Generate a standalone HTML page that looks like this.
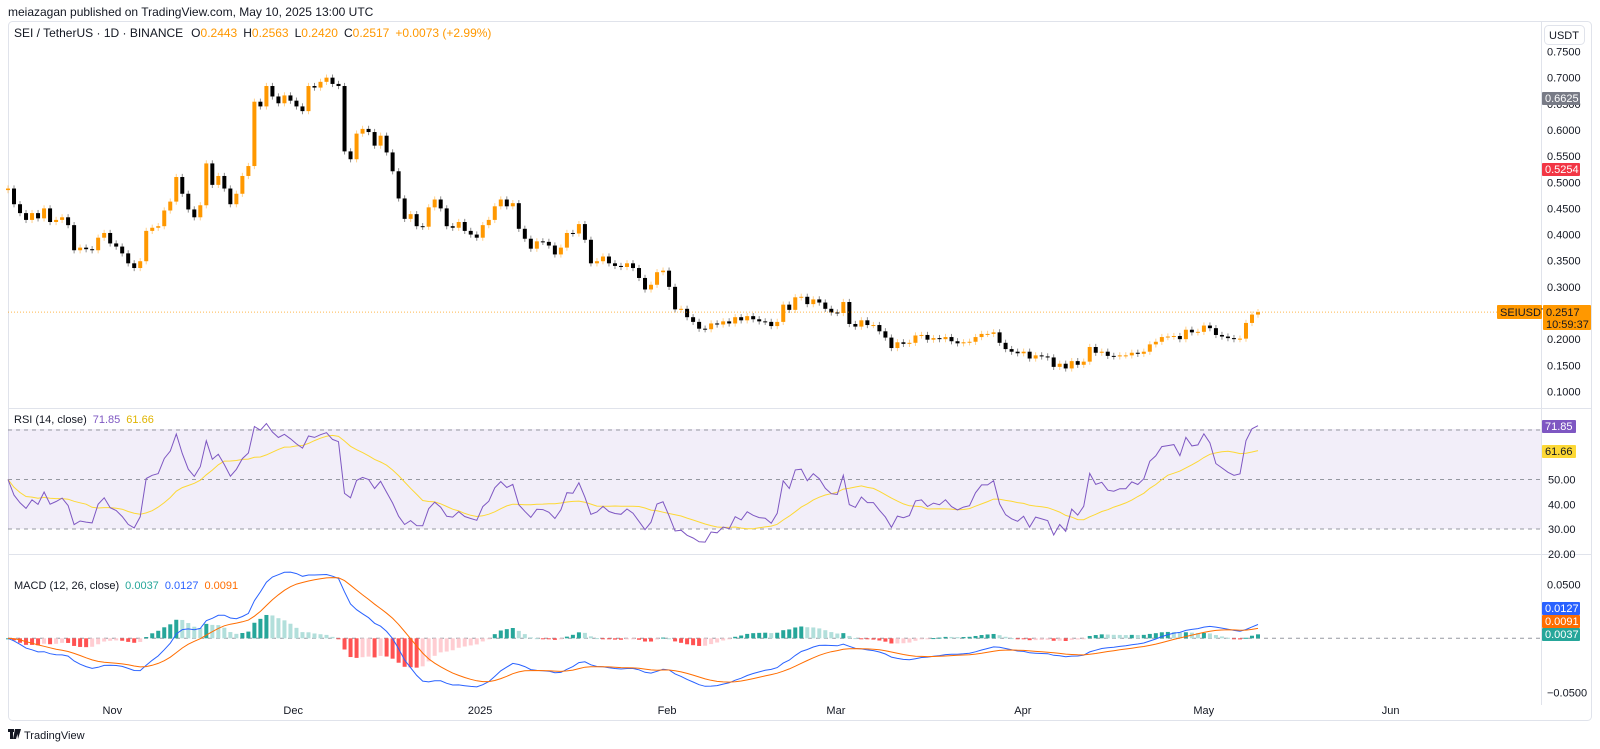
<!DOCTYPE html>
<html><head><meta charset="utf-8"><style>
html,body{margin:0;padding:0;background:#fff;}
svg{display:block;font-family:"Liberation Sans",sans-serif;}
</style></head><body>
<svg id="c" width="1600" height="749" viewBox="0 0 1600 749" xmlns="http://www.w3.org/2000/svg">
<rect x="0" y="0" width="1600" height="749" fill="#fff"/>
<text x="8" y="16" font-size="12" fill="#131722">meiazagan published on TradingView.com, May 10, 2025 13:00 UTC</text>
<rect x="8.5" y="21.5" width="1583" height="699" rx="4" fill="none" stroke="#e0e3eb"/>
<line x1="8" y1="408.5" x2="1592" y2="408.5" stroke="#e0e3eb"/>
<line x1="8" y1="554.5" x2="1592" y2="554.5" stroke="#e0e3eb"/>
<line x1="1541.5" y1="22" x2="1541.5" y2="705" stroke="#e0e3eb"/>
<rect x="1544.5" y="25.5" width="40" height="19" rx="4" fill="#fff" stroke="#e0e3eb"/>
<text x="1564" y="39" font-size="11" fill="#131722" text-anchor="middle">USDT</text>
<rect x="8" y="429" width="1533" height="100" fill="#7e57c2" fill-opacity="0.1"/>
<g id="grid"></g>
<g id="marks"></g>
<g id="labels"></g>
<text x="14" y="37" font-size="12" fill="#131722">SEI / TetherUS · 1D · BINANCE<tspan dx="8">O</tspan><tspan fill="#ff9800">0.2443</tspan><tspan dx="6">H</tspan><tspan fill="#ff9800">0.2563</tspan><tspan dx="6">L</tspan><tspan fill="#ff9800">0.2420</tspan><tspan dx="6">C</tspan><tspan fill="#ff9800">0.2517</tspan><tspan dx="6" fill="#ff9800">+0.0073 (+2.99%)</tspan></text>
<text x="14" y="423" font-size="11" fill="#131722">RSI (14, close)<tspan dx="6" fill="#7e57c2">71.85</tspan><tspan dx="6" fill="#e0b400">61.66</tspan></text>
<text x="14" y="589" font-size="11" fill="#131722">MACD (12, 26, close)<tspan dx="6" fill="#26a69a">0.0037</tspan><tspan dx="6" fill="#2962ff">0.0127</tspan><tspan dx="6" fill="#ff6d00">0.0091</tspan></text>
<g>
<rect x="8" y="729" width="6" height="3" fill="#131722"/><rect x="10" y="729" width="3" height="10" fill="#131722"/><polygon points="15,729 19,729 16,739 13,739" fill="#131722"/><polygon points="17,729 21,729 18,739" fill="#131722"/>
<text x="24" y="739" font-size="11" fill="#131722">TradingView</text>
</g>
</svg>
<script>
const closes = [0.488,0.458,0.441,0.428,0.441,0.431,0.450,0.424,0.428,0.433,0.418,0.370,0.375,0.372,0.370,0.394,0.403,0.383,0.377,0.364,0.345,0.336,0.349,0.407,0.413,0.416,0.446,0.463,0.510,0.478,0.448,0.433,0.456,0.536,0.495,0.512,0.488,0.458,0.478,0.512,0.531,0.654,0.645,0.684,0.664,0.651,0.666,0.656,0.645,0.636,0.684,0.681,0.692,
0.700,0.688,0.684,0.559,0.544,0.593,0.602,0.596,0.570,0.589,0.557,0.521,0.469,0.430,0.439,0.416,0.415,0.452,0.467,0.450,0.416,0.413,0.424,0.407,0.400,0.394,0.418,0.428,0.454,0.467,0.454,0.460,0.411,0.392,0.373,0.387,0.386,0.379,0.362,0.375,0.403,0.402,0.420,0.390,0.345,0.349,0.358,0.345,0.340,0.338,0.345,0.336,0.317,0.295,0.304,0.328,
0.331,0.300,0.257,0.258,0.242,0.233,0.220,0.219,0.230,0.228,0.234,0.230,0.242,0.236,0.244,0.238,0.234,0.233,0.225,0.233,0.266,0.256,0.280,0.281,0.267,0.276,0.270,0.258,0.251,0.250,0.271,0.229,0.224,0.236,0.227,0.227,0.215,0.203,0.183,0.194,0.191,0.193,0.207,0.208,0.199,0.202,0.200,
0.204,0.196,0.192,0.194,0.195,0.204,0.210,0.210,0.213,0.193,0.181,0.176,0.173,0.176,0.163,0.169,0.167,0.165,0.147,0.153,0.144,0.158,0.151,0.157,0.185,0.174,0.176,0.168,0.167,0.169,0.169,0.174,0.172,0.176,0.190,0.195,0.204,0.205,0.206,0.200,0.218,0.213,0.214,0.226,0.221,0.208,0.205,0.202,0.200,0.201,
0.231,0.247,0.2517];
const firstOpen = 0.485;
const priceTicks = ["0.7500","0.7000","0.6500","0.6000","0.5500","0.5000","0.4500","0.4000","0.3500","0.3000","0.2500","0.2000","0.1500","0.1000"];
const rsiTicks = ["50.00","40.00","30.00","20.00"];
const macdTicks = ["0.0500","−0.0500"];
const macdTickVals = [0.05,-0.05];
const timeLabels = ["Nov","Dec","2025","Feb","Mar","Apr","May","Jun"];
const timeDayOffsets = [-190,-160,-129,-98,-70,-39,-9,22];

const NS="http://www.w3.org/2000/svg";
const marks=document.getElementById('marks'), labels=document.getElementById('labels'), grid=document.getElementById('grid');
function mk(tag,attrs,parent){const e=document.createElementNS(NS,tag);for(const k in attrs)e.setAttribute(k,attrs[k]);(parent||marks).appendChild(e);return e;}
const N=closes.length, xLast=1258, xFirst=8, step=(xLast-xFirst)/(N-1), dayPx=6.03;
const xOf=i=>xFirst+i*step;
const yP=p=>51.5+(0.75-p)*523;
const yR=v=>529-(v-30)*2.475;
const yM=v=>638.3-v*1080;

priceTicks.forEach(t=>{const el=mk('text',{x:1547,y:yP(parseFloat(t))+4,'font-size':11,fill:'#131722'},labels);el.textContent=t;

});
rsiTicks.forEach(t=>{const el=mk('text',{x:1548,y:yR(parseFloat(t))+4,'font-size':11,fill:'#131722'},labels);el.textContent=t;

});
macdTicks.forEach((t,k)=>{const el=mk('text',{x:1547,y:yM(macdTickVals[k])+4,'font-size':11,fill:'#131722'},labels);el.textContent=t;

});
timeLabels.forEach((t,k)=>{const el=mk('text',{x:xLast+timeDayOffsets[k]*dayPx,y:714,'font-size':11,fill:'#131722','text-anchor':'middle'},labels);el.textContent=t;

});

[70,50,30].forEach(v=>{const l=mk('line',{x1:8,x2:1541,y1:yR(v),y2:yR(v),stroke:'#9598a1','stroke-dasharray':'4 4'},grid);

});
const z=mk('line',{x1:8,x2:1541,y1:yM(0),y2:yM(0),stroke:'#9598a1','stroke-dasharray':'4 4'},grid);



for(let i=0;i<N;i++){
  const o=i?closes[i-1]:firstOpen, c=closes[i], up=c>=o, col=up?'#ff9800':'#000';
  const x=xOf(i), hi=Math.max(o,c)+0.006, lo=Math.min(o,c)-0.006;
  const w=mk('line',{x1:x,x2:x,y1:yP(hi),y2:yP(lo),stroke:col,'stroke-opacity':0.45,'stroke-width':1});
  
  
  const top=yP(Math.max(o,c)), h=Math.max(1,yP(Math.min(o,c))-top);
  const b=mk('rect',{x:x-2,y:top,width:4,height:h,fill:col});
  
  
}
const lp=mk('line',{x1:8,x2:1500,y1:yP(closes[N-1]),y2:yP(closes[N-1]),stroke:'#ff9800','stroke-dasharray':'1 2','stroke-opacity':0.7});



// RSI (neutral seed)
let ag=0.008,al=0.008;
const rsi=[50];
for(let i=1;i<N;i++){const dd=closes[i]-closes[i-1];ag=(ag*13+Math.max(dd,0))/14;al=(al*13+Math.max(-dd,0))/14;rsi.push(100-100/(1+ag/(al||1e-9)));}
const rsiMa=rsi.map((v,i)=>{const s=rsi.slice(Math.max(0,i-13),i+1);return s.reduce((a,b)=>a+b,0)/s.length;});
function poly(arr,yf,col,name){const p=mk('polyline',{points:arr.map((v,i)=>xOf(i).toFixed(1)+','+yf(v).toFixed(1)).join(' '),fill:'none',stroke:col,'stroke-width':1});

}
poly(rsiMa,yR,'#fdd835','rsi-ma-line');
poly(rsi,yR,'#7e57c2','rsi-line');

function ema(arr,n){const k=2/(n+1);let e=arr[0];return arr.map(v=>e=v*k+e*(1-k));}
const e12=ema(closes,12),e26=ema(closes,26);
const macd=e12.map((v,i)=>v-e26[i]);
const sig=ema(macd,9);
const hist=macd.map((v,i)=>v-sig[i]);
hist.forEach((h,i)=>{
  const prev=i?hist[i-1]:h;
  const col=h>=0?(h>=prev?'#26a69a':'#b2dfdb'):(h<prev?'#ff5252':'#ffcdd2');
  const y0=yM(0),y1=yM(h);
  const r=mk('rect',{x:xOf(i)-2,y:Math.min(y0,y1),width:4,height:Math.max(1,Math.abs(y1-y0)),fill:col});
  
  
});
poly(macd,yM,'#2962ff','macd-line');
poly(sig,yM,'#ff6d00','macd-signal-line');

function tag(x,y,w,h,bg,fg,txt,name,ty){const g=mk('g',{},labels);


mk('rect',{x:x,y:y,width:w,height:h,fill:bg,rx:1},g);const t=mk('text',{x:x+3,y:ty||(y+h-3),'font-size':11,fill:fg},g);t.textContent=txt;return g;}
tag(1542,92,38,13,'#787b86','#fff','0.6625','level-tag-0-6625');
tag(1542,163,38,13,'#f23645','#fff','0.5254','level-tag-0-5254');
tag(1497,305,45,14,'#ff9800','#131722','SEIUSDT','symbol-tag',316);
const pb=tag(1543,305,48,25,'#ff9800','#131722','0.2517','last-price-tag',316);
const t2=mk('text',{x:1546,y:328,'font-size':11,fill:'#131722'},pb);t2.textContent='10:59:37';
tag(1542,420,34,13,'#7e57c2','#fff','71.85','rsi-value-tag');
tag(1542,445,34,13,'#fdd835','#131722','61.66','rsi-ma-value-tag');
tag(1542,602,38,13,'#2962ff','#fff','0.0127','macd-value-tag');
tag(1542,615,38,13,'#ff6d00','#fff','0.0091','signal-value-tag');
tag(1542,628,38,13,'#26a69a','#fff','0.0037','histogram-value-tag');
</script>
</body></html>
